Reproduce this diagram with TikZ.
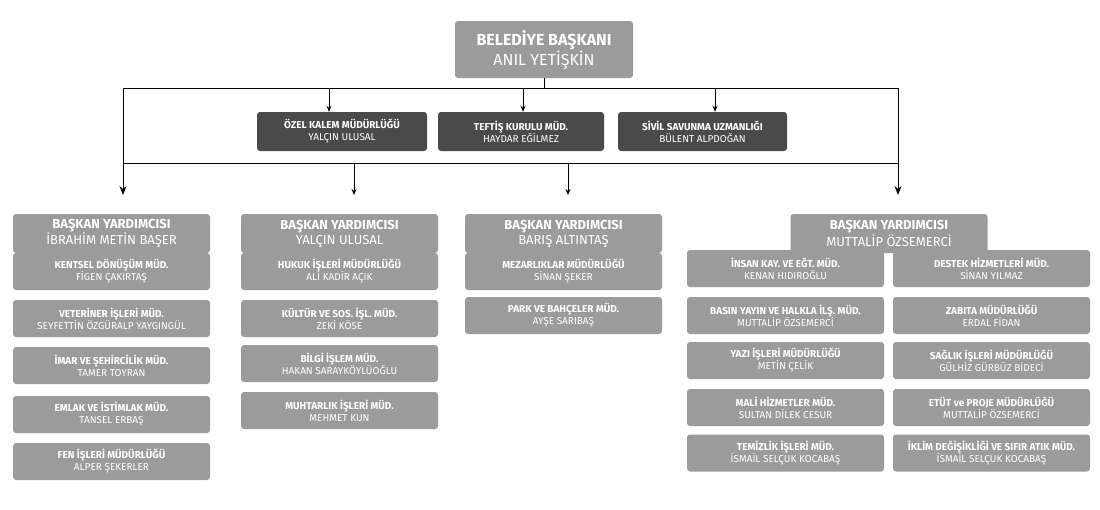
\documentclass[tikz,border=0pt]{standalone}
\usepackage{fontspec}
\setmainfont{Fira Sans}
\usetikzlibrary{arrows.meta}
\definecolor{boxg}{HTML}{9B9B9B}
\definecolor{boxd}{HTML}{4A4A4A}
\begin{document}
\begin{tikzpicture}[x=1pt,y=-1pt,
  bx/.style={fill=boxg,rounded corners=3pt,text=white,align=center,inner sep=0pt,font=\fontsize{10}{12}\selectfont},
  sub/.style={bx,minimum width=197pt,minimum height=37pt},
  dep/.style={bx,minimum width=197pt,minimum height=39pt,font=\fontsize{13}{15}\selectfont},
  dark/.style={bx,fill=boxd,minimum height=39pt},
  ln/.style={line width=1pt,black},
  arr/.style={ln,-{Stealth[length=6pt,width=5pt]}},
  arrb/.style={ln,-{Stealth[length=9pt,width=7pt]}}]
\useasboundingbox (0,0) rectangle (1100,509);
\node[bx,minimum width=178pt,minimum height=57pt,font=\fontsize{16}{20}\selectfont] (top) at (544,49.5) {\textbf{BELEDİYE BAŞKANI}\\ANIL YETİŞKİN};
\node[dark,minimum width=170pt] (ozel) at (342,131.5) {\textbf{ÖZEL KALEM MÜDÜRLÜĞÜ}\\YALÇIN ULUSAL};
\node[dark,minimum width=166pt] (teftis) at (521,131.5) {\textbf{TEFTİŞ KURULU MÜD.}\\HAYDAR EĞİLMEZ};
\node[dark,minimum width=169pt] (sivil) at (702.5,131.5) {\textbf{SİVİL SAVUNMA UZMANLIĞI}\\BÜLENT ALPDOĞAN};
\node[dep] (d1) at (111.5,233.5) {\textbf{BAŞKAN YARDIMCISI}\\İBRAHİM METİN BAŞER};
\node[dep] (d2) at (339.5,233.5) {\textbf{BAŞKAN YARDIMCISI}\\YALÇIN ULUSAL};
\node[dep] (d3) at (563.5,233.5) {\textbf{BAŞKAN YARDIMCISI}\\BARIŞ ALTINTAŞ};
\node[dep] (d4) at (889,233.5) {\textbf{BAŞKAN YARDIMCISI}\\MUTTALİP ÖZSEMERCİ};
% column 1
\node[sub] (a1) at (111.5,271.5) {\textbf{KENTSEL DÖNÜŞÜM MÜD.}\\FİGEN ÇAKIRTAŞ};
\node[sub] (a2) at (111.5,318.5) {\textbf{VETERİNER İŞLERİ MÜD.}\\SEYFETTİN ÖZGÜRALP YAYGINGÜL};
\node[sub] (a3) at (111.5,365.5) {\textbf{İMAR VE ŞEHİRCİLİK MÜD.}\\TAMER TOYRAN};
\node[sub] (a4) at (111.5,414.5) {\textbf{EMLAK VE İSTİMLAK MÜD.}\\TANSEL ERBAŞ};
\node[sub] (a5) at (111.5,461.5) {\textbf{FEN İŞLERİ MÜDÜRLÜĞÜ}\\ALPER ŞEKERLER};
% column 2
\node[sub] (b1) at (339.5,271.5) {\textbf{HUKUK İŞLERİ MÜDÜRLÜĞÜ}\\ALİ KADİR AÇIK};
\node[sub] (b2) at (339.5,318.5) {\textbf{KÜLTÜR VE SOS. İŞL. MÜD.}\\ZEKİ KÖSE};
\node[sub] (b3) at (339.5,363.5) {\textbf{BİLGİ İŞLEM MÜD.}\\HAKAN SARAYKÖYLÜOĞLU};
\node[sub] (b4) at (339.5,410.5) {\textbf{MUHTARLIK İŞLERİ MÜD.}\\MEHMET KUN};
% column 3
\node[sub] (c1) at (563.5,271.5) {\textbf{MEZARLIKLAR MÜDÜRLÜĞÜ}\\SİNAN ŞEKER};
\node[sub] (c2) at (563.5,315.5) {\textbf{PARK VE BAHÇELER MÜD.}\\AYŞE SARIBAŞ};
% column 4
\node[sub] (e1) at (785.5,268.5) {\textbf{İNSAN KAY. VE EĞT. MÜD.}\\KENAN HIDIROĞLU};
\node[sub] (e2) at (785.5,315.5) {\textbf{BASIN YAYIN VE HALKLA İLŞ. MÜD.}\\MUTTALİP ÖZSEMERCİ};
\node[sub] (e3) at (785.5,360.5) {\textbf{YAZI İŞLERİ MÜDÜRLÜĞÜ}\\METİN ÇELİK};
\node[sub] (e4) at (785.5,407.5) {\textbf{MALİ HİZMETLER MÜD.}\\SULTAN DİLEK CESUR};
\node[sub] (e5) at (785.5,453) {\textbf{TEMİZLİK İŞLERİ MÜD.}\\İSMAİL SELÇUK KOCABAŞ};
\node[sub] (f1) at (991.5,268.5) {\textbf{DESTEK HİZMETLERİ MÜD.}\\SİNAN YILMAZ};
\node[sub] (f2) at (991.5,315.5) {\textbf{ZABITA MÜDÜRLÜĞÜ}\\ERDAL FİDAN};
\node[sub] (f3) at (991.5,360.5) {\textbf{SAĞLIK İŞLERİ MÜDÜRLÜĞÜ}\\GÜLHİZ GÜRBÜZ BİDECİ};
\node[sub] (f4) at (991.5,407.5) {\textbf{ETÜT ve PROJE MÜDÜRLÜĞÜ}\\MUTTALİP ÖZSEMERCİ};
\node[sub] (f5) at (991.5,453) {\textbf{İKLİM DEĞİŞİKLİĞİ VE SIFIR ATIK MÜD.}\\İSMAİL SELÇUK KOCABAŞ};
% connector coordinates
\coordinate (L1) at (123,88); \coordinate (R1) at (898,88);
\coordinate (L2) at (123,163); \coordinate (R2) at (898,163);
\coordinate (p1) at (329,88); \coordinate (p2) at (523,88); \coordinate (p3) at (715,88);
\coordinate (q1) at (354,163); \coordinate (q2) at (568,163);
\coordinate (e) at (0,195);
\draw[ln] (top.south) -- (top.south|-L1);
\draw[ln] (L1) -- (R1);
\draw[ln] (L2) -- (R2);
\draw[arr] (p1) -- (p1|-ozel.north);
\draw[arr] (p2) -- (p2|-teftis.north);
\draw[arr] (p3) -- (p3|-sivil.north);
\draw[arr] (q1) -- (q1|-e);
\draw[arr] (q2) -- (q2|-e);
\draw[arrb] (L1) -- (L1|-e);
\draw[arrb] (R1) -- (R1|-e);
\end{tikzpicture}
\end{document}
